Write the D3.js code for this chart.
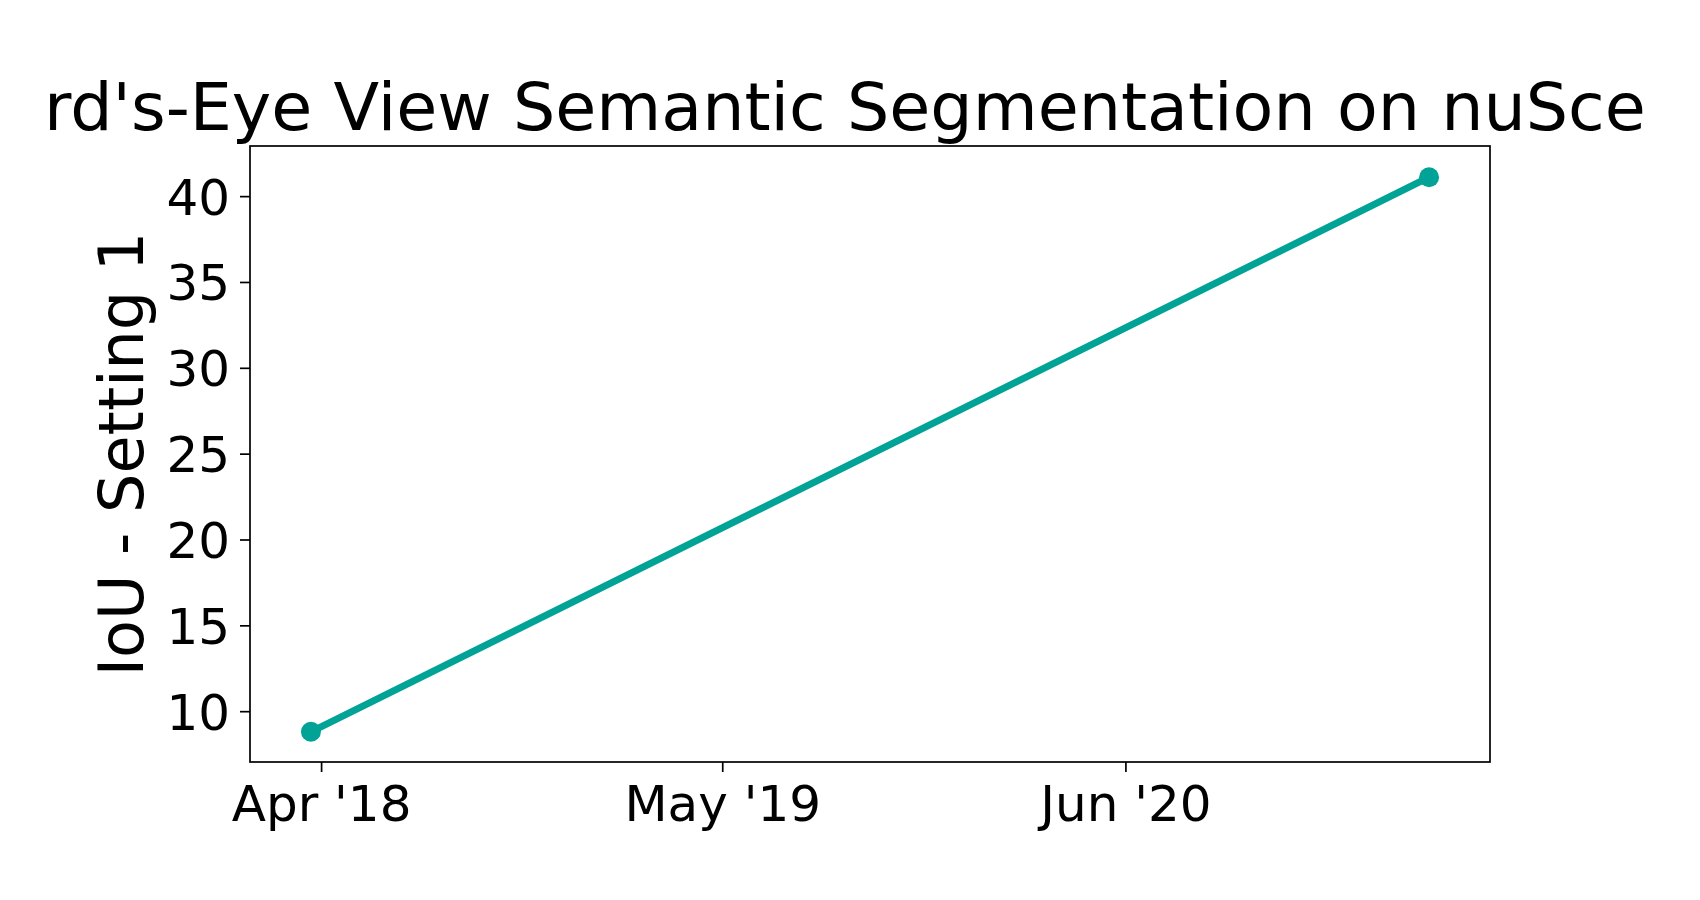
<!DOCTYPE html>
<html>
<head>
<title>Bird's-Eye View Semantic Segmentation on nuScenes</title>
<meta charset="utf-8" />
<script src="https://cdnjs.cloudflare.com/ajax/libs/d3/7.8.5/d3.min.js"></script>
<style>
	body {
		margin: 0;
		background-color: #ffffff;
	}
	#chart text {
		font-family: "DejaVu Sans", sans-serif;
		fill: #000000;
	}
</style>
</head>
<body>
<svg id="chart" width="1700" height="900"></svg>
<script>
// data
let dates = ["2018-03-22", "2021-03-27"];
let iou = [8.8, 41.1];
let yTicks = [10, 15, 20, 25, 30, 35, 40];
let xTicks = ["2018-04-01", "2019-05-01", "2020-06-01"];
let xTickLabels = ["Apr '18", "May '19", "Jun '20"];
// only the part of the title that shows in the picture (the rest falls off the edges)
let titleText = "rd's-Eye View Semantic Segmentation on nuSce";
let yLabel = "IoU - Setting 1";

let parse = d3.timeParse("%Y-%m-%d");

let width = 1700;
let height = 900;
// axes box in pixels
let boxLeft = 250, boxRight = 1490, boxTop = 146, boxBottom = 762;

let svg = d3.select("#chart");
svg.append("rect").attr("width", width).attr("height", height).attr("fill", "#ffffff");

let x = d3.scaleTime()
	.domain([parse("2018-01-21"), parse("2021-05-26")])
	.range([boxLeft, boxRight]);
let y = d3.scaleLinear()
	.domain([7.04, 42.92])
	.range([boxBottom, boxTop]);

let points = dates.map(function(d, i) {
	return {date: parse(d), value: iou[i]};
});

// title
svg.append("text")
	.attr("x", 44)
	.attr("y", 130)
	.attr("text-anchor", "start")
	.style("font-size", "66.7px")
	.text(titleText);

// y axis label
svg.append("text")
	.attr("transform", "translate(143," + ((boxTop + boxBottom) / 2) + ") rotate(-90)")
	.attr("text-anchor", "middle")
	.style("font-size", "62px")
	.text(yLabel);

// line + markers
let line = d3.line()
	.x(function(d) { return x(d.date); })
	.y(function(d) { return y(d.value); });

svg.append("path")
	.datum(points)
	.attr("d", line)
	.attr("fill", "none")
	.attr("stroke", "#00a396")
	.attr("stroke-width", 7)
	.attr("stroke-linecap", "square");

svg.selectAll("circle.pt")
	.data(points)
	.enter()
	.append("circle")
	.attr("class", "pt")
	.attr("cx", function(d) { return x(d.date); })
	.attr("cy", function(d) { return y(d.value); })
	.attr("r", 10)
	.attr("fill", "#00a396");

// axes
let yAxis = d3.axisLeft(y)
	.tickValues(yTicks)
	.tickSize(10)
	.tickPadding(10)
	.tickSizeOuter(0);
let gy = svg.append("g")
	.attr("transform", "translate(" + boxLeft + ",0)")
	.call(yAxis);

let xAxis = d3.axisBottom(x)
	.tickValues(xTicks.map(parse))
	.tickFormat(function(d, i) { return xTickLabels[i]; })
	.tickSize(10)
	.tickPadding(11)
	.tickSizeOuter(0);
let gx = svg.append("g")
	.attr("transform", "translate(0," + boxBottom + ")")
	.call(xAxis);

[gx, gy].forEach(function(g) {
	g.select(".domain").remove();
	g.selectAll(".tick line").attr("stroke", "#000").attr("stroke-width", 1.7);
	g.selectAll(".tick text").style("font-size", "50px");
});
gy.selectAll(".tick text").attr("dy", "0.36em");
gx.selectAll(".tick text").attr("dy", "0.76em");

// frame
svg.append("rect")
	.attr("x", boxLeft)
	.attr("y", boxTop)
	.attr("width", boxRight - boxLeft)
	.attr("height", boxBottom - boxTop)
	.attr("fill", "none")
	.attr("stroke", "#000")
	.attr("stroke-width", 1.7);
</script>
</body>
</html>
